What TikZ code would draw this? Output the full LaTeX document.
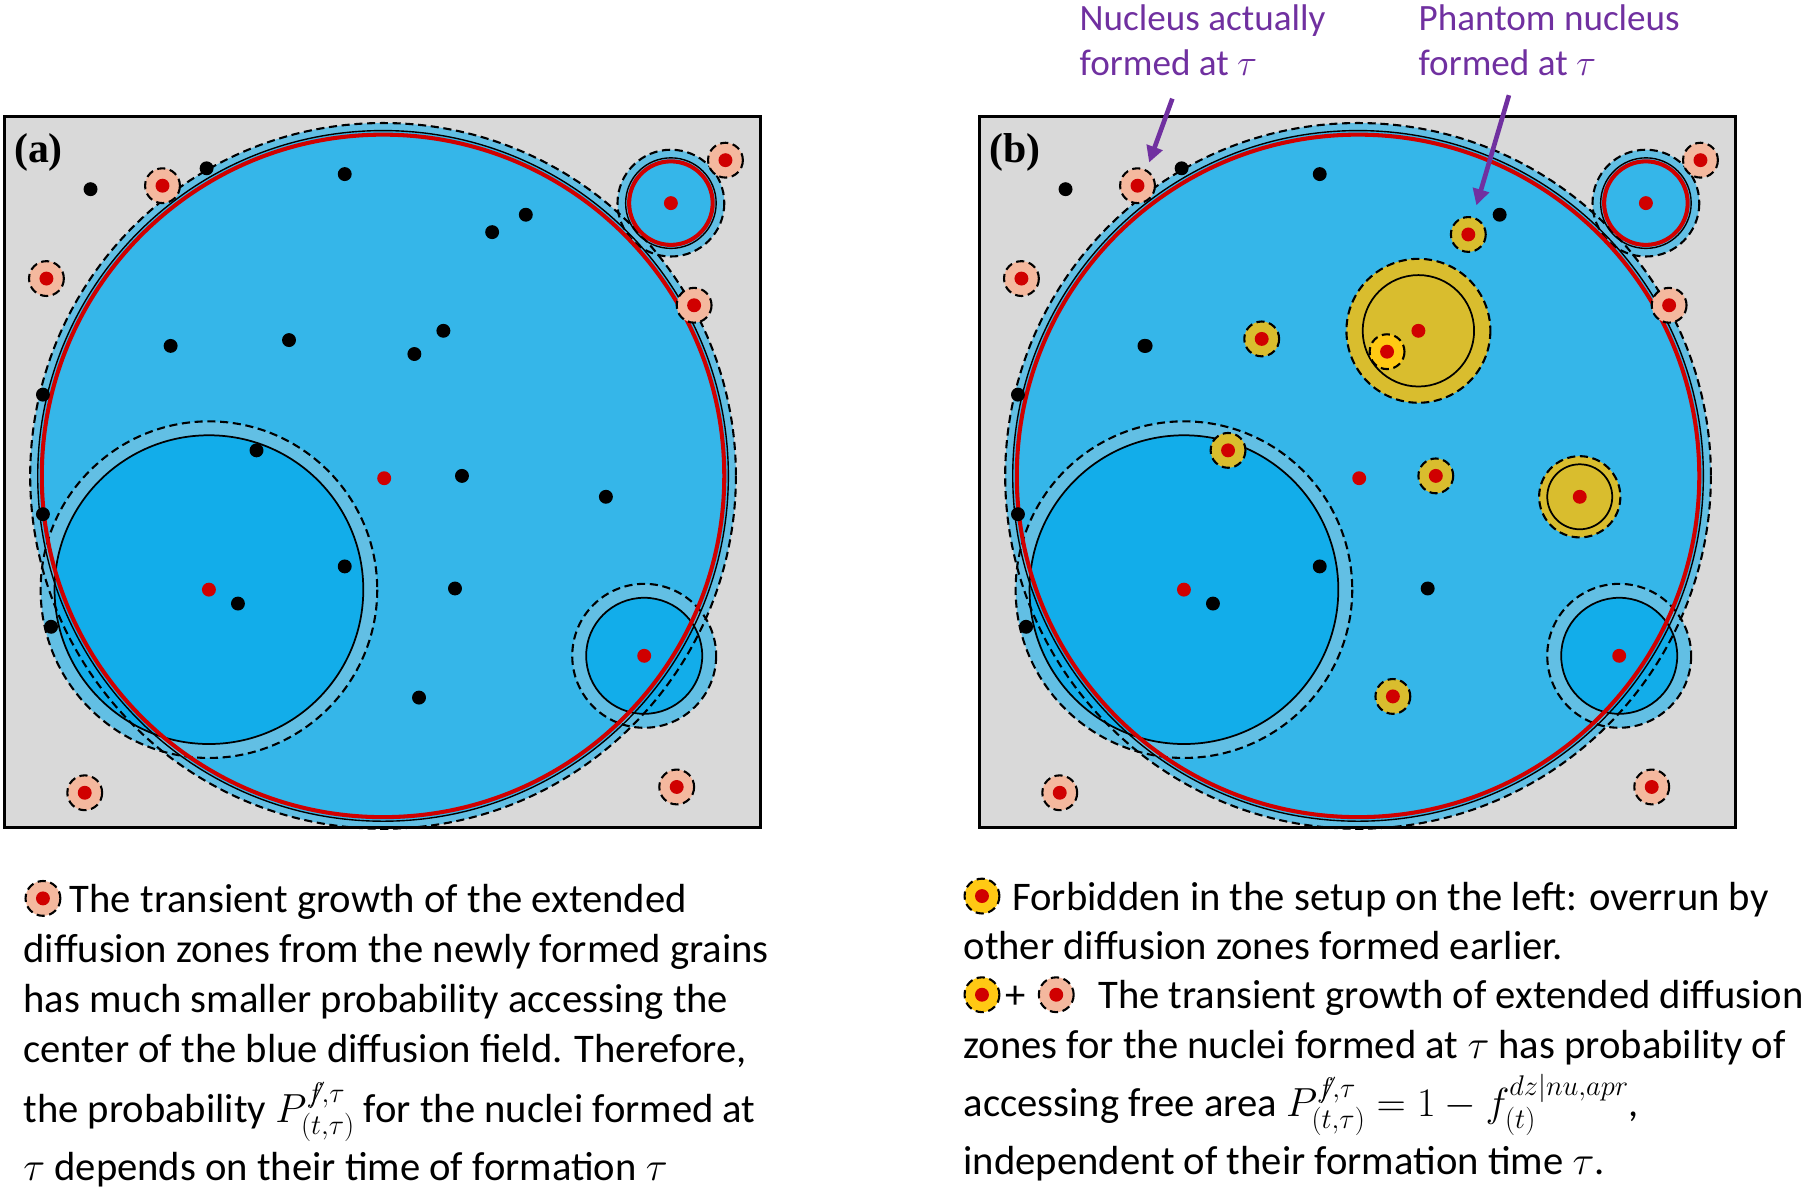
\documentclass[tikz,border=0pt]{standalone}
\usepackage{fix-cm}
\usepackage{amsmath}
\usepackage{fontspec}
\setmainfont{Carlito}
\newfontfamily\tnr{Liberation Serif}
\usetikzlibrary{arrows.meta}
\definecolor{grayb}{HTML}{D9D9D9}
\definecolor{blu}{HTML}{35B6E9}
\definecolor{blu2}{HTML}{12ADEA}
\definecolor{halo}{HTML}{62BFE4}
\definecolor{peach}{HTML}{F4B89E}
\definecolor{ndot}{HTML}{D00000}
\definecolor{yel}{HTML}{D9BD2E}
\definecolor{yel2}{HTML}{FFC914}
\definecolor{purp}{HTML}{7030A0}
\tikzset{dsh/.style={dashed,dash pattern=on 7pt off 4pt,line width=1.8pt},
 txt/.style={anchor=base west,font=\fontsize{35}{40}\selectfont,inner sep=0},
 lab/.style={anchor=base west,font=\fontsize{32}{36}\selectfont,text=purp,inner sep=0,align=left},
 plab/.style={anchor=north west,font=\tnr\bfseries\fontsize{36}{40}\selectfont,inner sep=0}}
\newcommand{\nuc}[3]{\fill[#3] (#1,#2) circle (15);\draw[dsh] (#1,#2) circle (15);\fill[ndot] (#1,#2) circle (6);}
\newcommand{\bdot}[2]{\fill (#1,#2) circle (6);}
\newcommand{\rdot}[2]{\fill[ndot] (#1,#2) circle (6);}
\newcommand{\panelbase}{%
 \fill[grayb] (4,100) rectangle (655,713);
 \fill[halo] (330,410) circle (304);
 \fill[blu] (330,410) circle (297);
 \fill[halo] (180,508) circle (145);
 \fill[blu2] (180,508) circle (133);
 \fill[halo] (555,565) circle (62);
 \fill[blu2] (555,565) circle (50);
 \fill[halo] (578,175) circle (46);
 \fill[blu] (578,175) circle (38);
 \draw[dsh] (330,410) circle (304);
 \draw[dsh] (180,508) circle (145);
 \draw[dsh] (555,565) circle (62);
 \draw[dsh] (578,175) circle (46);
 \draw[line width=1.5pt] (180,508) circle (133);
 \draw[line width=1.5pt] (555,565) circle (50);
 \draw[ndot,line width=3.5pt] (330,410) circle (294);
 \draw[line width=1.2pt] (330,410) circle (297.5);
 \draw[ndot,line width=3.5pt] (578,175) circle (36);
 \draw[line width=1.2pt] (578,175) circle (39);
 \rdot{331}{412}\rdot{180}{508}\rdot{555}{565}\rdot{578}{175}
 \nuc{140}{160}{peach}\nuc{625}{138}{peach}\nuc{40}{240}{peach}
 \nuc{598}{263}{peach}\nuc{73}{683}{peach}\nuc{583}{678}{peach}
 \bdot{78}{163}\bdot{178}{145}\bdot{297}{150}\bdot{147}{298}\bdot{37}{340}
 \bdot{297}{488}\bdot{205}{520}\bdot{44}{540}\bdot{37}{443}
 \draw[line width=2.5pt] (4,100) rectangle (655,713);}
\begin{document}
\begin{tikzpicture}[x=1pt,y=-1pt]
\useasboundingbox (0,0) rectangle (1568,1024);
% panel a
\begin{scope}
\panelbase
\bdot{249}{293}\bdot{357}{305}\bdot{382}{285}\bdot{424}{200}\bdot{453}{185}
\bdot{221}{388}\bdot{398}{410}\bdot{522}{428}\bdot{392}{507}\bdot{361}{601}
\node[plab] (la) at (12,115) {(a)};
\end{scope}
% panel b
\begin{scope}[xshift=840pt]
\panelbase
\fill[yel] (382,285) circle (62);\draw[dsh] (382,285) circle (62);
\draw[line width=1.5pt] (382,285) circle (48);
\rdot{382}{285}
\nuc{355}{303}{yel2}
\fill[yel] (521,428) circle (35);\draw[dsh] (521,428) circle (35);
\draw[line width=1.5pt] (521,428) circle (28);\rdot{521}{428}
\nuc{425}{202}{yel}\nuc{247}{292}{yel}\nuc{218}{388}{yel}\nuc{397}{410}{yel}\nuc{360}{600}{yel}
\bdot{452}{185}\bdot{146}{298}\bdot{390}{507}
\node[plab] (lb) at (12,115) {(b)};
\end{scope}
% purple labels
\node[lab] (l1) at (930,26) {Nucleus actually};
\node[lab] (l1b) at (930,65) {formed at $\tau$};
\node[lab] (l2) at (1222,26) {Phantom nucleus};
\node[lab] (l2b) at (1222,65) {formed at $\tau$};
\coordinate (a1s) at (1010,85); \coordinate (a1e) at (990,140);
\coordinate (a2s) at (1300,82); \coordinate (a2e) at (1272,177);
\draw[purp,line width=4pt,-{Triangle[length=14pt,width=14pt]}] (a1s) -- (a1e);
\draw[purp,line width=4pt,-{Triangle[length=14pt,width=14pt]}] (a2s) -- (a2e);
% left text
\nuc{37}{774}{peach}
\node[txt] (t1) at (60,786) {The transient growth of the extended};
\node[txt] (t2) at (20,829) {diffusion zones from the newly formed grains};
\node[txt] (t3) at (20,872) {has much smaller probability accessing the};
\node[txt] (t4) at (20,915) {center of the blue diffusion field. Therefore,};
\node[txt] (t5) at (20,967) {the probability $P^{\not f,\tau}_{(t,\tau)}$ for the nuclei formed at};
\node[txt] (t6) at (20,1017) {$\tau$ depends on their time of formation $\tau$};
% right text
\nuc{846}{772}{yel2}
\node[txt] (r1) at (872,784) {Forbidden in the setup on the left: overrun by};
\node[txt] (r2) at (830,827) {other diffusion zones formed earlier.};
\nuc{846}{857}{yel2}
\node[txt] (rp) at (866,869) {+};
\nuc{910}{857}{peach}
\node[txt] (r3) at (946,869) {The transient growth of extended diffusion};
\node[txt] (r4) at (830,912) {zones for the nuclei formed at $\tau$ has probability of};
\node[txt] (r5) at (830,962) {accessing free area $P^{\not f,\tau}_{(t,\tau)}=1-f^{dz|nu,apr}_{(t)}$,};
\node[txt] (r6) at (830,1012) {independent of their formation time $\tau$.};
\end{tikzpicture}
\end{document}
